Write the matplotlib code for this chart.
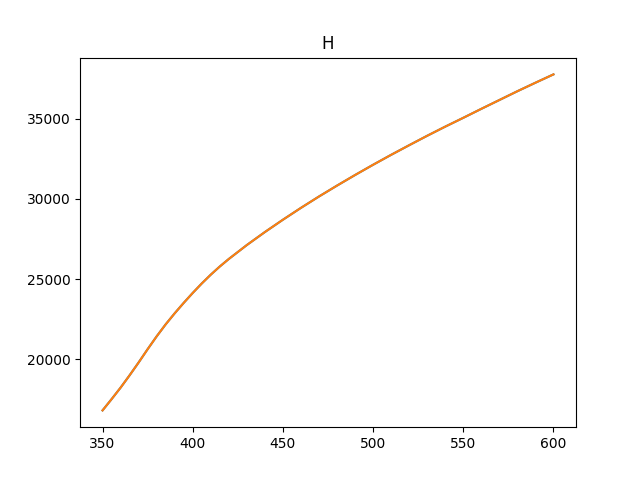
import matplotlib
matplotlib.use('Agg')
import numpy as np
import matplotlib.pyplot as plt

# temperature grid and enthalpy values
T = [350, 355, 360, 365, 370, 375, 380, 385, 390, 395, 400, 405, 410, 415,
     420, 430, 440, 450, 460, 470, 480, 490, 500, 510, 520, 530, 540, 550,
     560, 570, 580, 590, 600]
H_ref = [16800, 17500, 18220, 18990, 19790, 20620, 21420, 22170, 22860,
         23510, 24130, 24720, 25270, 25780, 26250, 27120, 27930, 28700,
         29440, 30150, 30830, 31490, 32130, 32750, 33350, 33940, 34510,
         35060, 35620, 36170, 36720, 37250, 37770]
H_fit = list(H_ref)

fig, ax = plt.subplots(figsize=(6.4, 4.8), dpi=100)
ax.plot(T, H_ref)
ax.plot(T, H_fit)
ax.set_title('H')

fig.savefig('out.png')
